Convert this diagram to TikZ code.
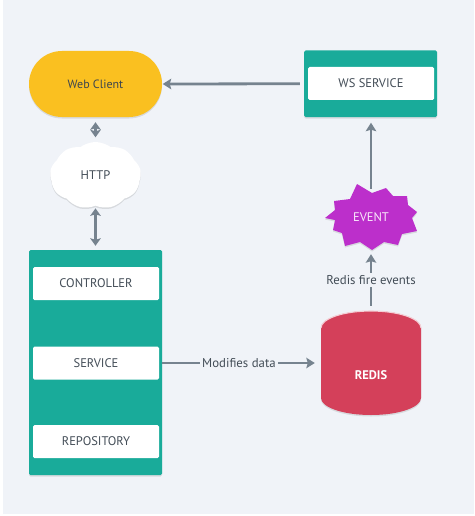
\documentclass[tikz,border=0pt]{standalone}
\usepackage{fontspec}
\setmainfont{PT Sans}
\usetikzlibrary{arrows.meta,shapes.symbols,shadows}
\definecolor{bgc}{HTML}{F0F3F8}
\definecolor{teal}{HTML}{19AB9A}
\definecolor{amber}{HTML}{FAC020}
\definecolor{rosered}{HTML}{D4405A}
\definecolor{violetc}{HTML}{BC2FCB}
\definecolor{linec}{HTML}{76838F}
\definecolor{inkc}{HTML}{434D57}
\tikzset{
  softshadow/.style={drop shadow={shadow xshift=0pt,shadow yshift=-1.5pt,opacity=0.10,fill=black}},
  tealbox/.style={fill=teal,rounded corners=1.5pt,softshadow,inner sep=0pt},
  whitebox/.style={fill=white,rounded corners=1.5pt,minimum width=126pt,minimum height=33pt,inner sep=0pt,text=inkc,font=\fontsize{12.5}{14}\selectfont},
  conn/.style={draw=linec,line width=2.8pt},
  onearrow/.style={conn,-{Stealth[length=8.5pt,width=10.5pt,inset=1.5pt]}},
  twoarrow/.style={conn,{Stealth[length=7.5pt,width=10.5pt,inset=1.5pt]}-{Stealth[length=7.5pt,width=10.5pt,inset=1.5pt]}},
  edgelabel/.style={fill=bgc,text=inkc,inner sep=2pt,font=\fontsize{12.8}{14}\selectfont},
}
\begin{document}
\begin{tikzpicture}[x=1pt,y=-1pt]
\useasboundingbox (0,0) rectangle (474,516);
\fill[white] (0,0) rectangle (474,516);
\fill[bgc] (3,0) rectangle (474,514);
% Web client
\node[fill=amber,rounded corners=32.9pt,minimum width=133pt,minimum height=66pt,inner sep=0pt,softshadow,text=inkc!90!black,font=\fontsize{12}{14}\selectfont] (web) at (95.5,84) {Web Client};
% HTTP cloud
\node[cloud,cloud puffs=9,cloud puff arc=75,aspect=1.35,fill=white,minimum width=91pt,minimum height=67pt,inner sep=0pt,softshadow,text=inkc,font=\fontsize{12.5}{14}\selectfont] (http) at (95.5,175.5) {HTTP};
% WS service
\node[tealbox,minimum width=133pt,minimum height=66.5pt] (wsbox) at (370.5,83.75) {};
\node[whitebox] (ws) at (371,83.5) {WS SERVICE};
% left stack
\node[tealbox,minimum width=133pt,minimum height=225pt] (stack) at (95.5,362.5) {};
\node[whitebox] (controller) at (96,283.5) {CONTROLLER};
\node[whitebox] (service) at (96,363) {SERVICE};
\node[whitebox] (repository) at (96,441.5) {REPOSITORY};
% Redis cylinder
\path[fill=rosered,softshadow] (321,328) arc[x radius=50,y radius=17,start angle=180,end angle=360] -- (421,398) arc[x radius=50,y radius=17,start angle=0,end angle=180] -- cycle;
\fill[rosered] (371,328) ellipse[x radius=50,y radius=17];
\draw[white!75!rosered,line width=1.1pt] (321,328) arc[x radius=50,y radius=17,start angle=180,end angle=360];
\node[inner sep=0pt,minimum width=100pt,minimum height=104pt] (redis) at (371,363) {};
\node[inner sep=0pt,text=white,font=\bfseries\fontsize{12.5}{14}\selectfont] (redislabel) at (371,375.5) {REDIS};
% Event burst
\path[fill=violetc,softshadow] (357,184) -- (372,193) -- (386,188) -- (393,196) -- (407,196) -- (408,205) -- (417,212) -- (412,218) -- (417,231) -- (402,234) -- (398,245) -- (384,242) -- (372,250) -- (360,242) -- (345,246) -- (342,233) -- (333,230) -- (335,220) -- (325,218) -- (335,210) -- (334,201) -- (350,199) -- cycle;
\node[inner sep=0pt,minimum width=80pt,minimum height=56pt,text=white!90!violetc,font=\fontsize{12.5}{14}\selectfont] (event) at (371,217) {EVENT};
% connectors
\draw[onearrow,shorten >=0.5pt,shorten <=4pt] (wsbox.west) -- (web.east);
\draw[twoarrow,shorten >=5pt,shorten <=4.5pt] (http.north) -- (web.south);
\draw[twoarrow,shorten >=4pt,shorten <=2.5pt] (http.south) -- (stack.north);
\coordinate (wsfoot) at (wsbox.south -| event.north);
\draw[onearrow,shorten >=5.5pt] (event.north) -- (wsfoot);
\draw[onearrow,shorten >=9pt,shorten <=5pt] (redis.north) -- node[edgelabel,pos=0.47] {Redis fire events} (event.south);
\draw[onearrow,shorten >=6pt] (stack.east |- service) -- node[edgelabel,pos=0.484] {Modifies data} (redis.west |- service);
\end{tikzpicture}
\end{document}
